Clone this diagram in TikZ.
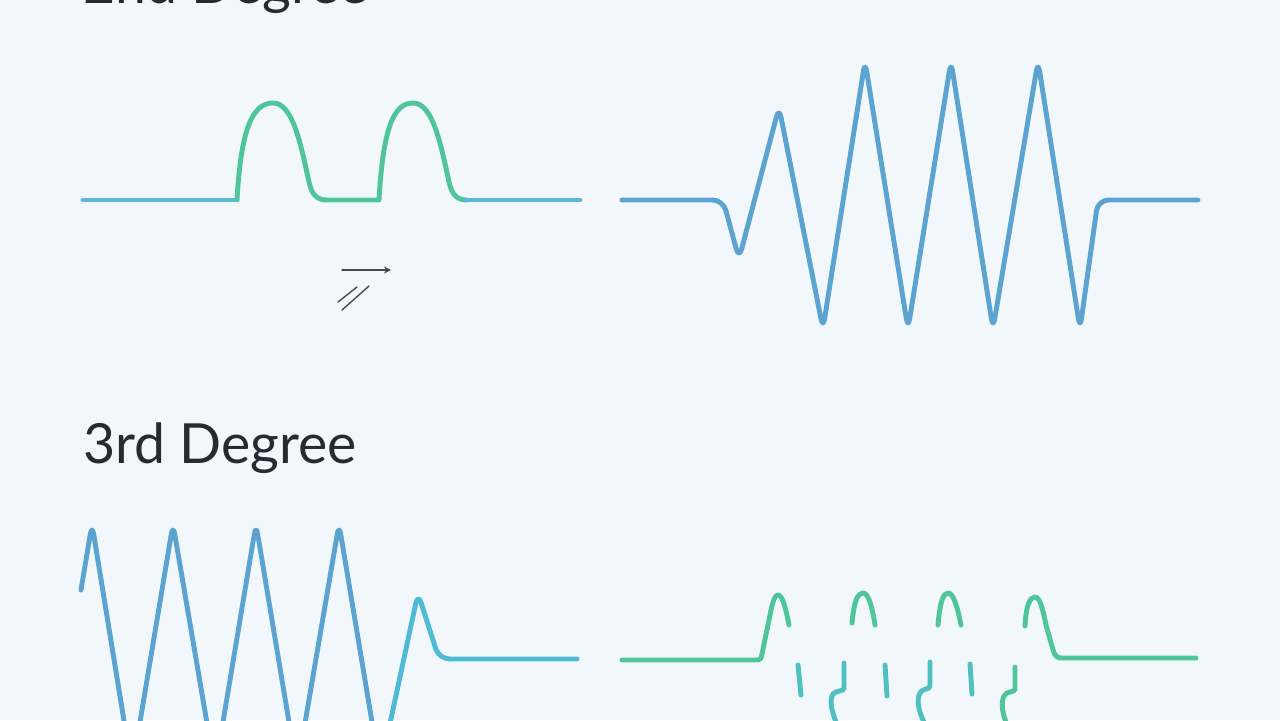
\documentclass[tikz,border=0pt]{standalone}
\usepackage{fontspec}
\setmainfont{Lato}
\usetikzlibrary{arrows.meta}
\definecolor{bgcol}{HTML}{F1F7FB}
\definecolor{flatblue}{HTML}{5CBAD6}
\definecolor{pulsegreen}{HTML}{50C49B}
\definecolor{waveblue}{HTML}{5CA4CF}
\definecolor{wavecyan}{HTML}{4FBAD5}
\definecolor{bittealc}{HTML}{4FBFC0}
\definecolor{inkdark}{HTML}{242B33}
\begin{document}
\begin{tikzpicture}[x=0.02cm,y=-0.02cm,
    wave/.style={line width=2.8pt,line cap=round,line join=round},
    title/.style={anchor=base west,inner sep=0pt,text=inkdark,
        font=\fontsize{31.5}{38}\selectfont},
    doodle/.style={draw=inkdark!85,line width=0.8pt,line cap=round}]

    % Background and frame
    \fill[bgcol] (0,0) rectangle (1280,720);
    \clip (0,0) rectangle (1280,720);

    % Titles
    \node[title] (second) at (83,4) {2nd Degree};
    \node[title] (third) at (83,463) {3rd Degree};

    % 2nd degree, left: two rounded pulses
    \draw[wave,flatblue] (83,200) -- (237,200);
    \draw[wave,pulsegreen] (237,200)
        .. controls (241,130) and (252,103) .. (273,103)
        .. controls (292,103) and (300,140) .. (309,182)
        .. controls (312,196) and (318,200) .. (327,200) -- (379,200)
        .. controls (383,130) and (393,103) .. (413,103)
        .. controls (432,103) and (440,140) .. (449,182)
        .. controls (452,196) and (458,200) .. (467,200);
    \draw[wave,flatblue] (467,200) -- (580,200);

    % small doodle under the pulses
    \coordinate (dA) at (342,270);
    \coordinate (dB) at (391,270);
    \draw[doodle,-{Stealth[length=4pt,width=4pt]}] (dA) -- (dB);
    \draw[doodle] (338,302) -- (357,287);
    \draw[doodle] (342,310) -- (369,286);

    % 2nd degree, right: zigzag burst
    \draw[wave,waveblue,rounded corners=6pt] (622,200) -- (723,200)
        -- (739,259) -- (779,107) -- (823,329) -- (865,61) -- (908,329)
        -- (951,61) -- (993,329) -- (1038,61) -- (1080,329)
        -- (1098,200) -- (1198,200);

    % 3rd degree, left: big zigzag running off the page
    \draw[wave,waveblue,rounded corners=6pt] (81,590) -- (92,524)
        -- (132,770) -- (173,524) -- (215,770) -- (256,524)
        -- (297,770) -- (339,524) -- (380,770);
    \draw[wave,wavecyan,rounded corners=6pt] (380,770) -- (418,593)
        -- (439,659) -- (577,659);

    % 3rd degree, right: broken pulses
    \draw[wave,pulsegreen] (622,660) -- (758,660)
        .. controls (761,660) and (761,658) .. (762,654)
        -- (770,615)
        .. controls (773,600) and (775,595) .. (778,595)
        .. controls (782,595) and (785,605) .. (789,625);
    \draw[wave,pulsegreen] (852,623) .. controls (854,600) and (858,593) .. (863,593)
        .. controls (868,593) and (872,605) .. (875,625);
    \draw[wave,pulsegreen] (938,625) .. controls (940,602) and (943,593) .. (948,593)
        .. controls (953,593) and (957,605) .. (961,625);
    \draw[wave,pulsegreen] (1025,626)
        .. controls (1026,605) and (1030,597) .. (1035,597)
        .. controls (1040,597) and (1043,610) .. (1046,625)
        -- (1053,650)
        .. controls (1055,656) and (1057,658) .. (1062,658) -- (1196,658);
    \draw[wave,bittealc] (798,665) -- (801,695);
    \draw[wave,bittealc] (885,665) -- (887,696);
    \draw[wave,bittealc] (970,664) -- (972,694);
    \draw[wave,bittealc] (844,663) -- (844,688)
        .. controls (844,692) and (836,690) .. (833,694)
        .. controls (829,700) and (832,712) .. (836,722);
    \draw[wave,bittealc] (930,662) -- (930,686)
        .. controls (930,690) and (922,688) .. (920,693)
        .. controls (916,700) and (919,712) .. (924,722);
    \draw[wave,pulsegreen] (1015,667) -- (1015,689)
        .. controls (1015,693) and (1007,690) .. (1004,696)
        .. controls (1001,702) and (1002,712) .. (1006,722);
\end{tikzpicture}
\end{document}
